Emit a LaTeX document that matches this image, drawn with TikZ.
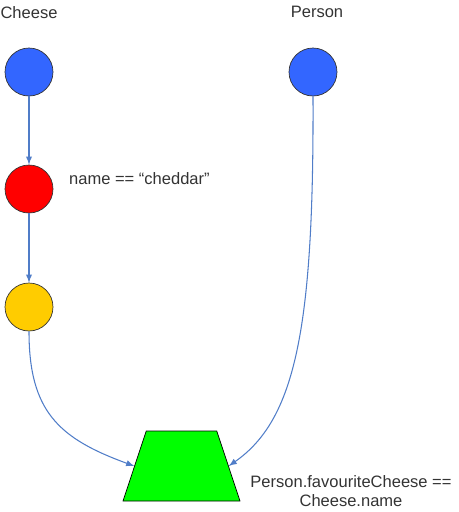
\documentclass[tikz,border=0pt]{standalone}
\usepackage{fontspec}
\setmainfont{Liberation Sans}
\usetikzlibrary{shapes.geometric}
\definecolor{nodeblue}{RGB}{51,102,255}
\definecolor{nodeyellow}{RGB}{255,204,0}
\definecolor{linkblue}{RGB}{80,125,200}
\begin{document}
\begin{tikzpicture}[
    x=0.02cm, y=-0.02cm,
    every node/.style={font=\fontsize{9.4}{11}\selectfont, text=black!80},
    dot/.style={circle, draw=black!80, minimum size=0.96cm, inner sep=0pt},
    link/.style={->, >=latex, draw=linkblue, line width=0.6pt},
]
\useasboundingbox (0,0) rectangle (458,512);

\node (cheeselbl) at (29,13) {Cheese};
\node (personlbl) at (317,12) {Person};

\node[dot, fill=nodeblue] (cheese) at (29,72) {};
\node[dot, fill=red] (cheddar) at (29,189) {};
\node[dot, fill=nodeyellow] (filtered) at (29,307) {};
\node[dot, fill=nodeblue] (person) at (313,72) {};

\node[anchor=west] (cond) at (63,179) {name == “cheddar”};

\node[trapezium, draw=black, fill=green, trapezium stretches=true,
      minimum width=2.34cm, minimum height=1.4cm, trapezium angle=71.8,
      inner sep=2pt] (join) at (181.5,466) {};
\node[align=center] (joincond) at (351,491) {Person.favouriteCheese ==\\Cheese.name};

\draw[link] (cheese) -- (cheddar);
\draw[link] (cheddar) -- (filtered);
\draw[link] (filtered.south) to[out=-90, in=160, looseness=1.2] (join.west);
\draw[link] (person.south) .. controls (314,330) and (295,420) .. (join.east);

\end{tikzpicture}
\end{document}
